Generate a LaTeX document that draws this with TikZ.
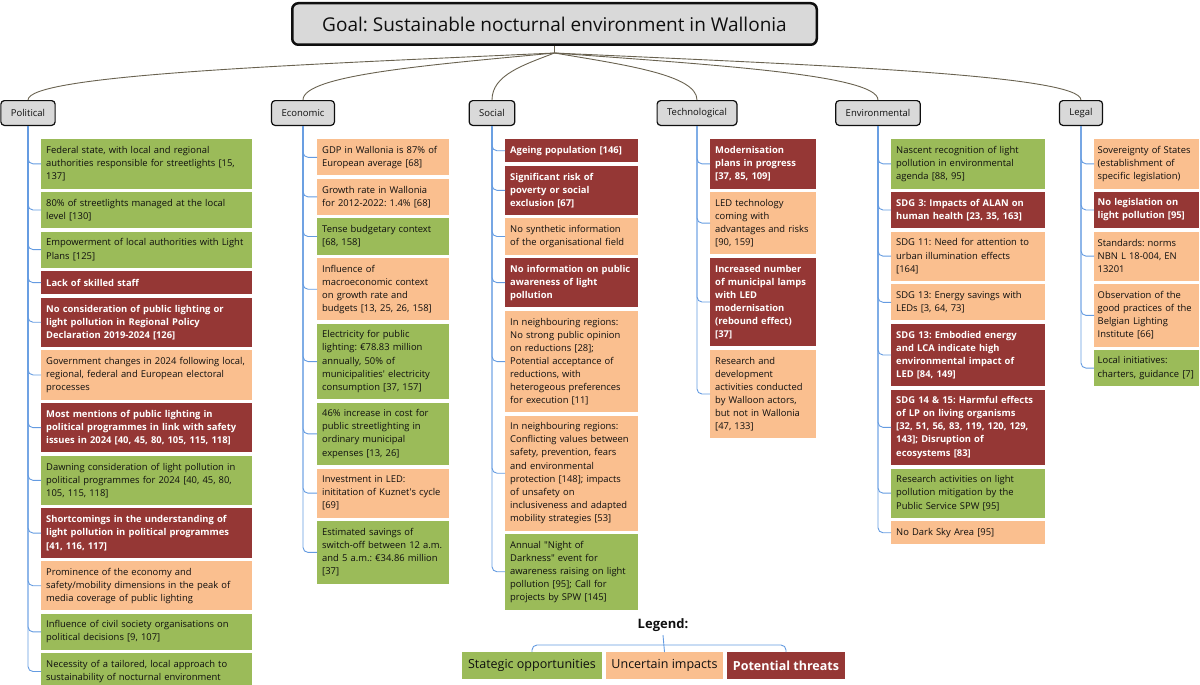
\documentclass[tikz,border=0pt]{standalone}
\usepackage{fontspec}
\setmainfont{Open Sans}
\newfontfamily\osplain{Open Sans}
\usetikzlibrary{positioning,calc}
\definecolor{cgreen}{RGB}{155,187,89}
\definecolor{corange}{RGB}{250,191,143}
\definecolor{cred}{RGB}{149,55,53}
\definecolor{cblue}{RGB}{100,155,225}
\definecolor{cgoal}{RGB}{105,98,80}
\definecolor{cgray}{RGB}{217,217,217}
\definecolor{cdark}{RGB}{15,15,15}
\tikzset{
  every node/.style={font=\osplain\frenchspacing\fontsize{9.4}{13.1}\selectfont},
  box/.style={rectangle, inner xsep=5pt, inner ysep=0pt, align=left, text=cdark},
  gbox/.style={box, fill=cgreen},
  obox/.style={box, fill=corange},
  rbox/.style={box, fill=cred, text=white, font=\osplain\frenchspacing\fontsize{9.4}{13.1}\selectfont\bfseries},
  nl/.style={minimum height={#1*13.1pt+10pt}},
  wP/.style={text width=201pt},
  wE/.style={text width=122pt},
  wS/.style={text width=123pt},
  wT/.style={text width=96pt},
  wV/.style={text width=144pt},
  wL/.style={text width=98pt, inner xsep=3.5pt},
  nx/.style={below=3pt of #1},
  bl/.style={draw=cblue, line width=0.9pt, rounded corners=5pt},
  gl/.style={draw=cgoal, line width=0.9pt},
  cat/.style={rectangle, rounded corners=3.5pt, draw=cdark, line width=1.2pt, fill=cgray, minimum height=24.8pt, inner xsep=10pt, text=cdark, font=\osplain\fontsize{9.5}{11}\selectfont},
  goalbox/.style={rectangle, rounded corners=6pt, draw=cdark, line width=2.5pt, fill=cgray, minimum width=524.5pt, minimum height=41.5pt, text=cdark, font=\osplain\frenchspacing\fontsize{19}{22}\selectfont},
  lgbox/.style={rectangle, minimum height=26.5pt, inner xsep=5pt, text=cdark, font=\osplain\fontsize{12.5}{14}\selectfont},
}
\begin{document}
\begin{tikzpicture}[x=1pt,y=-1pt]
\useasboundingbox (0,0) rectangle (1200,685);

% goal and categories
\node[goalbox] (goal) at (554.5,24) {Goal: Sustainable nocturnal environment in Wallonia};
\coordinate (hub) at (554.5,53);
\node[cat] (cP) at (28,113) {Political};
\node[cat] (cE) at (303,113) {Economic};
\node[cat] (cS) at (492,113) {Social};
\node[cat] (cT) at (697,113) {Technological};
\node[cat] (cV) at (878,113) {Environmental};
\node[cat] (cL) at (1081,113) {Legal};
\draw[gl] (goal.south) -- (hub);
\foreach \c in {cP,cE,cS,cT,cV,cL}
  \draw[gl] (hub) .. controls ($(hub)!0.5!(hub-|\c.north)+(0,12)$) and ($(\c.north)+(0,-25)$) .. (\c.north);

% Political
\node[gbox,wP,nl=3,anchor=north west] (p1) at (41,139) {Federal state, with local and regional\\authorities responsible for streetlights [15,\\137]};
\node[gbox,wP,nl=2,nx=p1] (p2) {80\% of streetlights managed at the local\\level [130]};
\node[gbox,wP,nl=2,nx=p2] (p3) {Empowerment of local authorities with Light\\Plans [125]};
\node[rbox,wP,nl=1,nx=p3] (p4) {Lack of skilled staff};
\node[rbox,wP,nl=3,nx=p4] (p5) {No consideration of public lighting or\\light pollution in Regional Policy\\Declaration 2019-2024 [126]};
\node[obox,wP,nl=3,nx=p5] (p6) {Government changes in 2024 following local,\\regional, federal and European electoral\\processes};
\node[rbox,wP,nl=3,nx=p6] (p7) {Most mentions of public lighting in\\political programmes in link with safety\\issues in 2024 [40, 45, 80, 105, 115, 118]};
\node[gbox,wP,nl=3,nx=p7] (p8) {Dawning consideration of light pollution in\\political programmes for 2024 [40, 45, 80,\\105, 115, 118]};
\node[rbox,wP,nl=3,nx=p8] (p9) {Shortcomings in the understanding of\\light pollution in political programmes\\{}[41, 116, 117]};
\node[obox,wP,nl=3,nx=p9] (p10) {Prominence of the economy and\\safety/mobility dimensions in the peak of\\media coverage of public lighting};
\node[gbox,wP,nl=2,nx=p10] (p11) {Influence of civil society organisations on\\political decisions [9, 107]};
\node[gbox,wP,nl=2,nx=p11] (p12) {Necessity of a tailored, local approach to\\sustainability of nocturnal environment};
\foreach \n in {p1,p2,p3,p4,p5,p6,p7,p8,p9,p10,p11,p12}
  \draw[bl] (cP.south) |- (\n.west);

% Economic
\node[obox,wE,nl=2,anchor=north west] (e1) at (317,139) {GDP in Wallonia is 87\% of\\European average [68]};
\node[obox,wE,nl=2,nx=e1] (e2) {Growth rate in Wallonia\\for 2012-2022: 1.4\% [68]};
\node[gbox,wE,nl=2,nx=e2] (e3) {Tense budgetary context\\{}[68, 158]};
\node[obox,wE,nl=4,nx=e3] (e4) {Influence of\\macroeconomic context\\on growth rate and\\budgets [13, 25, 26, 158]};
\node[gbox,wE,nl=5,nx=e4] (e5) {Electricity for public\\lighting: €78.83 million\\annually, 50\% of\\municipalities' electricity\\consumption [37, 157]};
\node[gbox,wE,nl=4,nx=e5] (e6) {46\% increase in cost for\\public streetlighting in\\ordinary municipal\\expenses [13, 26]};
\node[obox,wE,nl=3,nx=e6] (e7) {Investment in LED:\\inititation of Kuznet's cycle\\{}[69]};
\node[gbox,wE,nl=4,nx=e7] (e8) {Estimated savings of\\switch-off between 12 a.m.\\and 5 a.m.: €34.86 million\\{}[37]};
\foreach \n in {e1,e2,e3,e4,e5,e6,e7,e8}
  \draw[bl] (cE.south) |- (\n.west);

% Social
\node[rbox,wS,nl=1,anchor=north west] (s1) at (505,139) {Ageing population [146]};
\node[rbox,wS,nl=3,nx=s1] (s2) {Significant risk of\\poverty or social\\exclusion [67]};
\node[obox,wS,nl=2,nx=s2] (s3) {No synthetic information\\of the organisational field};
\node[rbox,wS,nl=3,nx=s3] (s4) {No information on public\\awareness of light\\pollution};
\node[obox,wS,nl=7,nx=s4] (s5) {In neighbouring regions:\\No strong public opinion\\on reductions [28];\\Potential acceptance of\\reductions, with\\heterogeous preferences\\for execution [11]};
\node[obox,wS,nl=8,nx=s5] (s6) {In neighbouring regions:\\Conflicting values between\\safety, prevention, fears\\and environmental\\protection [148]; impacts\\of unsafety on\\inclusiveness and adapted\\mobility strategies [53]};
\node[gbox,wS,nl=5,nx=s6] (s7) {Annual "Night of\\Darkness" event for\\awareness raising on light\\pollution [95]; Call for\\projects by SPW [145]};
\foreach \n in {s1,s2,s3,s4,s5,s6,s7}
  \draw[bl] (cS.south) |- (\n.west);

% Technological
\node[rbox,wT,nl=3,anchor=north west] (t1) at (710,139) {Modernisation\\plans in progress\\{}[37, 85, 109]};
\node[obox,wT,nl=4,nx=t1] (t2) {LED technology\\coming with\\advantages and risks\\{}[90, 159]};
\node[rbox,wT,nl=6,nx=t2] (t3) {Increased number\\of municipal lamps\\with LED\\modernisation\\(rebound effect)\\{}[37]};
\node[obox,wT,nl=6,nx=t3] (t4) {Research and\\development\\activities conducted\\by Walloon actors,\\but not in Wallonia\\{}[47, 133]};
\foreach \n in {t1,t2,t3,t4}
  \draw[bl] (cT.south) |- (\n.west);

% Environmental
\node[gbox,wV,nl=3,anchor=north west] (v1) at (891,139) {Nascent recognition of light\\pollution in environmental\\agenda [88, 95]};
\node[rbox,wV,nl=2,nx=v1] (v2) {SDG 3: Impacts of ALAN on\\human health [23, 35, 163]};
\node[obox,wV,nl=3,nx=v2] (v3) {SDG 11: Need for attention to\\urban illumination effects\\{}[164]};
\node[obox,wV,nl=2,nx=v3] (v4) {SDG 13: Energy savings with\\LEDs [3, 64, 73]};
\node[rbox,wV,nl=4,nx=v4] (v5) {SDG 13: Embodied energy\\and LCA indicate high\\environmental impact of\\LED [84, 149]};
\node[rbox,wV,nl=5,nx=v5] (v6) {SDG 14 \& 15: Harmful effects\\of LP on living organisms\\{}[32, 51, 56, 83, 119, 120, 129,\\143]; Disruption of\\ecosystems [83]};
\node[gbox,wV,nl=3,nx=v6] (v7) {Research activities on light\\pollution mitigation by the\\Public Service SPW [95]};
\node[obox,wV,nl=1,nx=v7] (v8) {No Dark Sky Area [95]};
\foreach \n in {v1,v2,v3,v4,v5,v6,v7,v8}
  \draw[bl] (cV.south) |- (\n.west);

% Legal
\node[obox,wL,nl=3,anchor=north west] (l1) at (1094,139) {Sovereignty of States\\(establishment of\\specific legislation)};
\node[rbox,wL,nl=2,nx=l1] (l2) {No legislation on\\light pollution [95]};
\node[obox,wL,nl=3,nx=l2] (l3) {Standards: norms\\NBN L 18-004, EN\\13201};
\node[obox,wL,nl=4,nx=l3] (l4) {Observation of the\\good practices of the\\Belgian Lighting\\Institute [66]};
\node[gbox,wL,nl=2,nx=l4] (l5) {Local initiatives:\\charters, guidance [7]};
\foreach \n in {l1,l2,l3,l4,l5}
  \draw[bl] (cL.south) |- (\n.west);

% Legend
\node[text=cdark, font=\osplain\fontsize{13}{15}\selectfont\bfseries] (leg) at (663,625) {Legend:};
\node[lgbox, fill=cgreen, minimum width=140pt] (lg1) at (532,665.5) {Stategic opportunities};
\node[lgbox, fill=corange, minimum width=117pt] (lg2) at (664.5,665.5) {Uncertain impacts};
\node[lgbox, fill=cred, text=white, minimum width=118pt, font=\osplain\fontsize{12.5}{14}\selectfont\bfseries] (lg3) at (786,665.5) {Potential threats};
\coordinate (lhub) at (664.5,645);
\draw[bl] (lg1.north) |- (lhub) -| (lg3.north);
\draw[bl] (leg.south) -- (lg2.north);
\end{tikzpicture}
\end{document}
